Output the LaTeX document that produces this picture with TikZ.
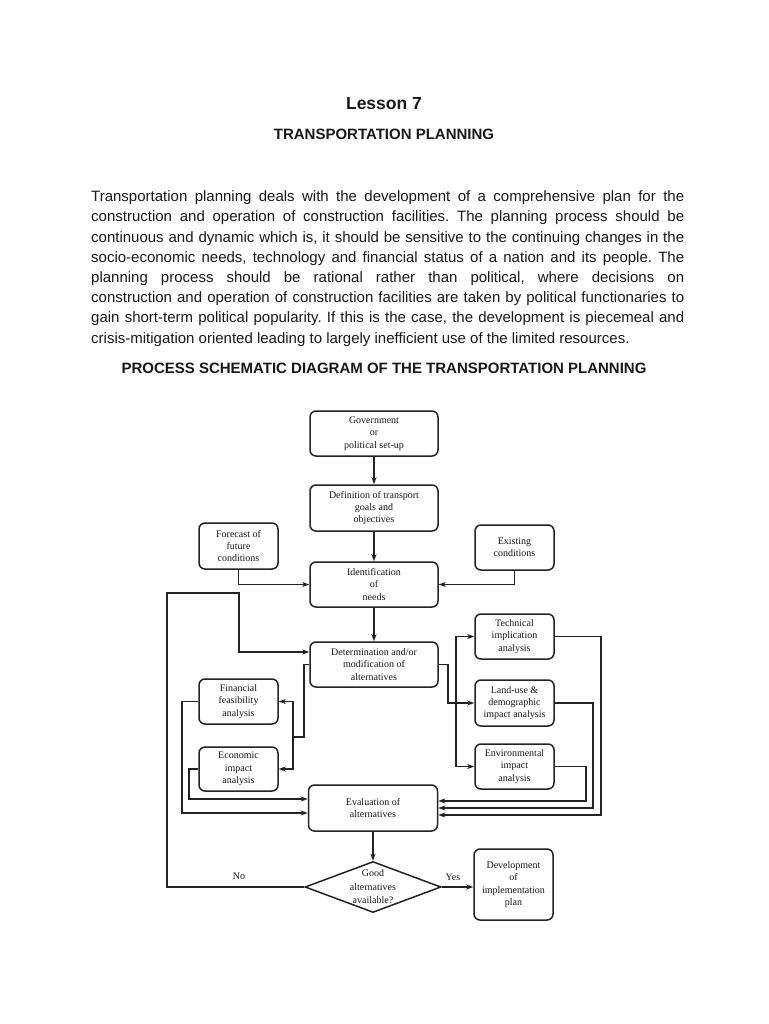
\documentclass[tikz,border=0pt]{standalone}
\usepackage{fontspec}
\setmainfont{Liberation Sans}
\newfontfamily\dfont{Liberation Serif}
\usetikzlibrary{arrows.meta,shapes.geometric,calc}
\definecolor{lc}{RGB}{35,35,35}
\definecolor{tc}{RGB}{25,25,25}
\frenchspacing
\begin{document}
\begin{tikzpicture}[x=1pt,y=-1pt,
  box/.style={draw=lc, line width=1.5pt, rounded corners=6pt, align=center, text=tc,
    font=\dfont\fontsize{10}{12.3}\selectfont, inner sep=0pt},
  wbox/.style={box, minimum width=128pt, minimum height=45pt},
  sbox/.style={box, minimum width=79pt, minimum height=45pt},
  dtext/.style={text=tc, font=\dfont\fontsize{10}{12.3}\selectfont, inner sep=0pt},
  bodyl/.style={anchor=base west, inner sep=0pt, text=tc, font=\fontsize{15}{18}\selectfont},
  head/.style={anchor=base, inner sep=0pt, text=tc, font=\bfseries\fontsize{15}{18}\selectfont},
  line/.style={draw=lc, line width=1.2pt},
  arr/.style={line, -{Stealth[length=7pt,width=5pt,inset=2pt]}}
]
\useasboundingbox[fill=white] (0,0) rectangle (768,1024);

% headings
\node[head, font=\bfseries\fontsize{17.5}{20}\selectfont] (lesson) at (384,110) {Lesson 7};
\node[head] (title) at (384,140) {TRANSPORTATION PLANNING};

% body
\node[bodyl] (b1) at (91,201.7) {\makebox[593pt][s]{Transportation planning deals with the development of a comprehensive plan for the}};
\node[bodyl] (b2) at (91,221.9) {\makebox[593pt][s]{construction and operation of construction facilities. The planning process should be}};
\node[bodyl] (b3) at (91,242.1) {\makebox[593pt][s]{continuous and dynamic which is, it should be sensitive to the continuing changes in the}};
\node[bodyl] (b4) at (91,262.3) {\makebox[593pt][s]{socio-economic needs, technology and financial status of a nation and its people. The}};
\node[bodyl] (b5) at (91,282.5) {\makebox[593pt][s]{planning process should be rational rather than political, where decisions on}};
\node[bodyl] (b6) at (91,302.7) {\makebox[593pt][s]{construction and operation of construction facilities are taken by political functionaries to}};
\node[bodyl] (b7) at (91,322.9) {\makebox[593pt][s]{gain short-term political popularity. If this is the case, the development is piecemeal and}};
\node[bodyl] (b8) at (91,343.1) {crisis-mitigation oriented leading to largely inefficient use of the limited resources.};

\node[head] (ptitle) at (384,373) {PROCESS SCHEMATIC DIAGRAM OF THE TRANSPORTATION PLANNING};

% diagram nodes
\node[wbox] (gov) at (374,433.5) {Government\\or\\political set-up};
\node[wbox, minimum height=46pt] (def) at (374,508) {Definition of transport\\goals and\\objectives};
\node[sbox, minimum height=46pt] (fore) at (238.5,546) {Forecast of\\future\\conditions};
\node[sbox] (exist) at (514.5,547.5) {Existing\\conditions};
\node[wbox] (ident) at (374,584.5) {Identification\\of\\needs};
\node[wbox] (detm) at (374,664.5) {Determination and/or\\modification of\\alternatives};
\node[sbox] (tech) at (514.5,636.5) {Technical\\implication\\analysis};
\node[sbox, minimum height=46pt] (land) at (514.5,703) {Land-use \&\\demographic\\impact analysis};
\node[sbox] (env) at (514.5,766.5) {Environmental\\impact\\analysis};
\node[sbox] (fin) at (238.5,701.5) {Financial\\feasibility\\analysis};
\node[sbox, minimum height=44pt] (eco) at (238.5,769) {Economic\\impact\\analysis};
\node[wbox, minimum width=129pt, minimum height=46pt] (eval) at (373,808) {Evaluation of\\alternatives};
\node[draw=lc, line width=1.5pt, diamond, minimum width=136pt, minimum height=51pt, inner sep=0pt] (dia) at (373,887) {};
\node[dtext, align=center, font=\dfont\fontsize{10}{13.5}\selectfont] (diat) at (373,887) {Good\\alternatives\\available?};
\node[sbox, minimum height=71pt] (dev) at (513.5,884.5) {Development\\of\\implementation\\plan};

% labels
\node[dtext] (no) at (239,876) {No};
\node[dtext] (yes) at (453,877) {Yes};

% helper coordinates
\coordinate (nA) at (167,593);
\coordinate (nB) at (239,652);
\coordinate (rA) at (448,703);
\coordinate (rB) at (456,703);
\coordinate (lA) at (293,737);
\coordinate (lB) at (304,737);
\coordinate (fA) at (182,813);
\coordinate (eA) at (189,799);
\coordinate (tA) at (601,815);
\coordinate (lnA) at (593,808);
\coordinate (enA) at (586,801);

% main spine
\draw[arr] (gov) -- (def);
\draw[arr] (def) -- (ident);
\draw[arr] (fore.south) |- (ident.west);
\draw[arr] (exist.south) |- (ident.east);
\draw[arr] (ident) -- (detm);
\draw[arr] (eval) -- (dia);
\draw[arr] (dia.east) -- (dia.east -| dev.west);

% No loop
\draw[arr] (dia.west) -| (nA) -| (nB) -- (nB -| detm.west);

% right branches
\draw[arr] (detm.east) -| (rA) -- (land.west);
\draw[arr] (rB) |- (tech.west);
\draw[arr] (rB) |- (env.west);

% left branches
\draw[line] (detm.west) -| (lB) -- (lA);
\draw[arr] (lA) |- (fin.east);
\draw[arr] (lA) |- (eco.east);

% into evaluation
\draw[arr] (fin.west) -| (fA) -- (fA -| eval.west);
\draw[arr] (eco.west) -| (eA) -- (eA -| eval.west);
\draw[arr] (tech.east) -| (tA) -- (tA -| eval.east);
\draw[arr] (land.east) -| (lnA) -- (lnA -| eval.east);
\draw[arr] (env.east) -| (enA) -- (enA -| eval.east);
\end{tikzpicture}
\end{document}
